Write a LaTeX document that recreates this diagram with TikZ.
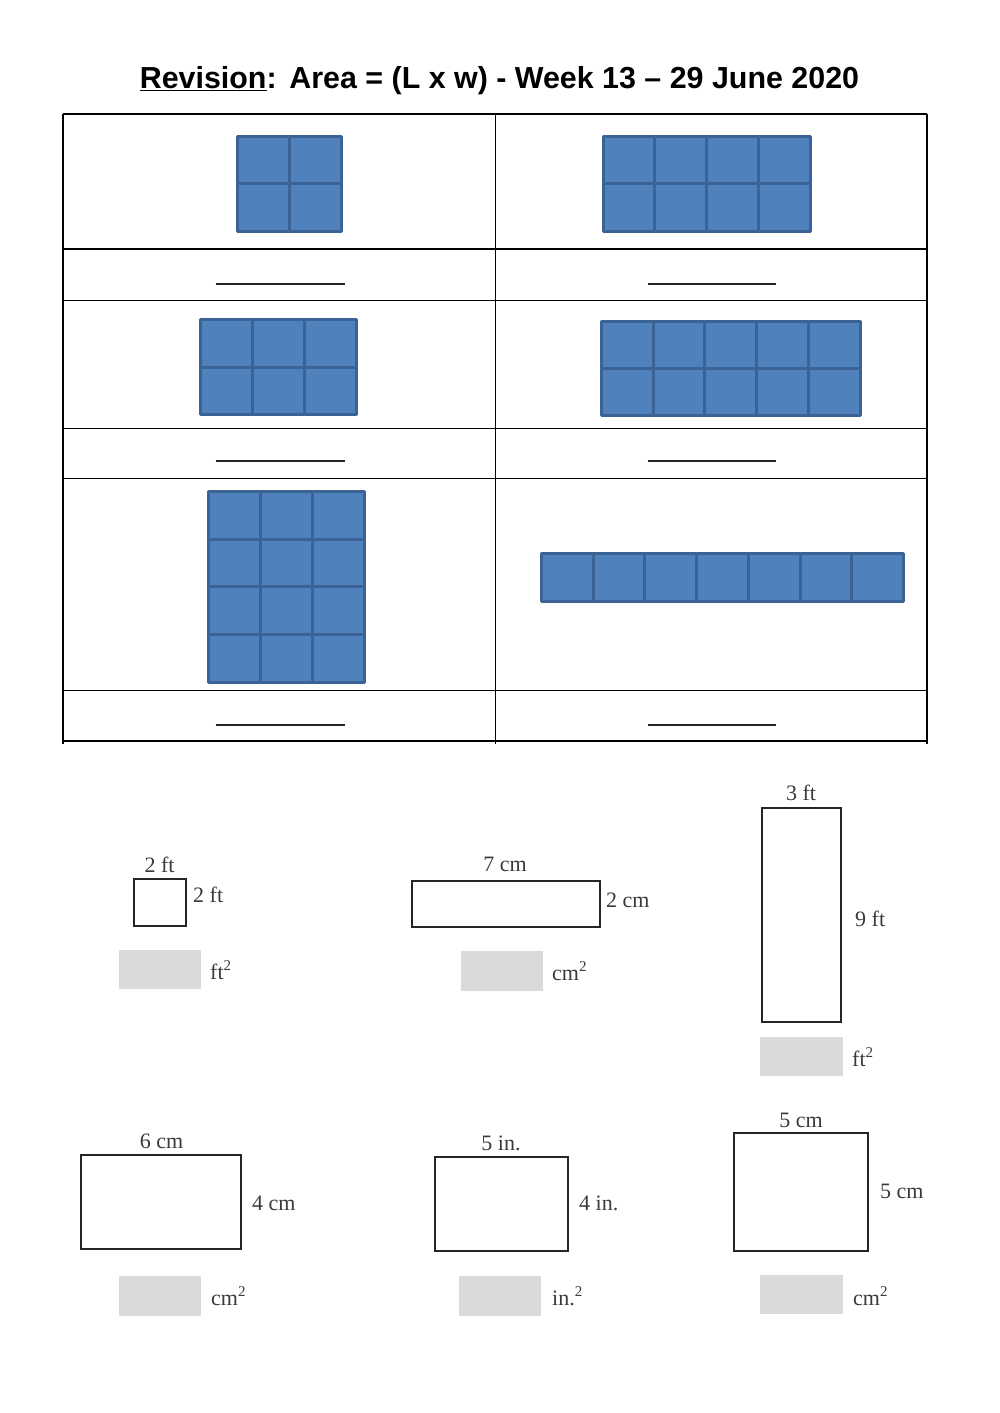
\documentclass[tikz,border=0pt]{standalone}
\usepackage{fontspec}
\setmainfont{Liberation Serif}
\newfontfamily\titlefont{Liberation Sans}
\definecolor{tileblue}{HTML}{4F81BD}
\definecolor{tileedge}{HTML}{3C6395}
\definecolor{answergray}{HTML}{D9DADC}
\definecolor{labelgray}{HTML}{3A3A3A}
\newcommand{\tilegrid}[6]{%
  \fill[tileblue] (#1,#2) rectangle (#3,#4);
  \pgfmathsetmacro{\gw}{(#3-#1)/#5}
  \pgfmathsetmacro{\gh}{(#4-#2)/#6}
  \foreach \i in {1,...,#5} {\draw[tileline] ({#1+\i*\gw},#2) -- ({#1+\i*\gw},#4);}
  \foreach \j in {1,...,#6} {\draw[tileline] (#1,{#2+\j*\gh}) -- (#3,{#2+\j*\gh});}
  \draw[tileline] (#1,#2) rectangle (#3,#4);
}
\newcommand{\sqmark}{\raisebox{0.4em}{\fontsize{15}{15}\selectfont 2}}
\tikzset{
  tileline/.style={tileedge,line width=3pt,line join=round},
  tableline/.style={black,line width=0.9pt},
  tableheavy/.style={black,line width=1.8pt},
  blankline/.style={black!85,line width=2pt},
  shapebox/.style={draw=black!85,line width=2pt},
  answerbox/.style={fill=answergray},
  dimlabel/.style={text=labelgray,font=\fontsize{22}{24}\selectfont,inner sep=0pt}
}
\begin{document}
\begin{tikzpicture}[x=1pt,y=-1pt]
\useasboundingbox (0,0) rectangle (1000,1413);
% title
\node[font=\titlefont\bfseries\fontsize{30.4}{33}\selectfont,inner sep=0pt] (title) at (499.5,81)
  {\underline{Revision}:\hspace{0.42em}Area = (L x w) - Week 13 – 29 June 2020};
% table
\draw[tableheavy] (63,114) -- (927,114);
\draw[tableheavy] (63,249) -- (927,249);
\draw[tableline] (63,300) -- (927,300);
\draw[tableline] (63,428) -- (927,428);
\draw[tableline] (63,478) -- (927,478);
\draw[tableline] (63,690) -- (927,690);
\draw[tableheavy] (63,741) -- (927,741);
\draw[tableheavy] (63,114) -- (63,744);
\draw[tableline] (495.5,114) -- (495.5,744);
\draw[tableheavy] (927,114) -- (927,744);
% tiles
\tilegrid{237}{136}{341}{231.5}{2}{2}
\tilegrid{603}{136}{810.5}{231.5}{4}{2}
\tilegrid{200.5}{319.5}{356}{414.5}{3}{2}
\tilegrid{601.5}{321}{860}{415.5}{5}{2}
\tilegrid{208.5}{491.5}{364.5}{682}{3}{4}
\tilegrid{541.5}{553.5}{903.5}{601}{7}{1}
% answer blanks
\draw[blankline] (215.5,284) -- (344.5,284);
\draw[blankline] (647.5,284) -- (775.5,284);
\draw[blankline] (215.5,461) -- (344.5,461);
\draw[blankline] (647.5,461) -- (775.5,461);
\draw[blankline] (215.5,725) -- (344.5,725);
\draw[blankline] (647.5,725) -- (775.5,725);
% rectangles
\draw[shapebox] (133.5,879) rectangle (186,926);
\draw[shapebox] (411.5,880.5) rectangle (600,927);
\draw[shapebox] (761.5,807.5) rectangle (841,1022);
\draw[shapebox] (81,1154.5) rectangle (241,1249);
\draw[shapebox] (434.5,1156.5) rectangle (568,1250.5);
\draw[shapebox] (734,1132.5) rectangle (868,1251);
% answer boxes
\fill[answerbox] (119,950) rectangle (201,989);
\fill[answerbox] (461,951) rectangle (543,991);
\fill[answerbox] (760,1037) rectangle (843,1076);
\fill[answerbox] (119,1276) rectangle (201,1316);
\fill[answerbox] (459,1276) rectangle (541,1316);
\fill[answerbox] (760,1275) rectangle (843,1314);
% dimension labels
\node[dimlabel] (a1) at (159.5,865) {2 ft};
\node[dimlabel,anchor=west] (a2) at (193,895) {2 ft};
\node[dimlabel,anchor=west] (a3) at (210,970) {ft\sqmark};
\node[dimlabel] (b1) at (505,864) {7 cm};
\node[dimlabel,anchor=west] (b2) at (606,900) {2 cm};
\node[dimlabel,anchor=west] (b3) at (552,971) {cm\sqmark};
\node[dimlabel] (c1) at (801,793) {3 ft};
\node[dimlabel,anchor=west] (c2) at (855,919) {9 ft};
\node[dimlabel,anchor=west] (c3) at (852,1057) {ft\sqmark};
\node[dimlabel] (d1) at (161.5,1141) {6 cm};
\node[dimlabel,anchor=west] (d2) at (252,1203) {4 cm};
\node[dimlabel,anchor=west] (d3) at (211,1296) {cm\sqmark};
\node[dimlabel] (e1) at (501,1143) {5 in.};
\node[dimlabel,anchor=west] (e2) at (579,1203) {4 in.};
\node[dimlabel,anchor=west] (e3) at (552,1296) {in.\sqmark};
\node[dimlabel] (f1) at (801,1120) {5 cm};
\node[dimlabel,anchor=west] (f2) at (880,1191) {5 cm};
\node[dimlabel,anchor=west] (f3) at (853,1296) {cm\sqmark};
\end{tikzpicture}
\end{document}
